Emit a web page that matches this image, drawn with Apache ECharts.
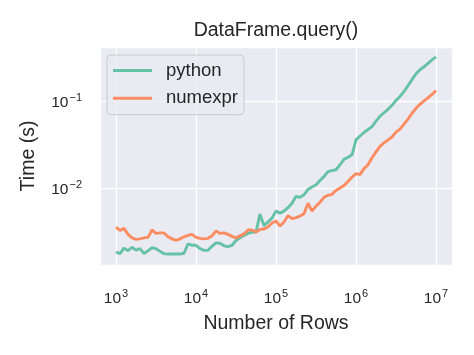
<!DOCTYPE html>
<html><head><meta charset="utf-8">
<script src="https://cdn.jsdelivr.net/npm/echarts@6/dist/echarts.min.js"></script>
<style>html,body{margin:0;padding:0;background:#fff}#c{width:474px;height:355px}</style>
</head><body><div id="c"></div>
<script>
// Number of rows (x)
const rows = [
  1000, 1122, 1259, 1413, 1585, 1778, 1995, 2239, 2512, 2818,
  3162, 3548, 3981, 4467, 5012, 5623, 6310, 7079, 7943, 8913,
  10000, 11220, 12589, 14125, 15849, 17783, 19953, 22387, 25119, 28184,
  31623, 35481, 39811, 44668, 50119, 56234, 63096, 70795, 79433, 89125,
  100000, 112202, 125893, 141254, 158489, 177828, 199526, 223872, 251189, 281838,
  316228, 354813, 398107, 446684, 501187, 562341, 630957, 707946, 794328, 891251,
  1000000, 1122018, 1258925, 1412538, 1584893, 1778279, 1995262, 2238721, 2511886, 2818383,
  3162278, 3548134, 3981072, 4466836, 5011872, 5623413, 6309573, 7079458, 7943282, 8912509,
  10000000
];
// Time (s) - python engine
const python = [
  1.86e-3, 1.78e-3, 2.06e-3, 1.92e-3, 2.11e-3, 1.95e-3, 2.03e-3, 1.78e-3, 1.92e-3, 2.08e-3,
  2.03e-3, 1.90e-3, 1.78e-3, 1.76e-3, 1.76e-3, 1.76e-3, 1.76e-3, 1.80e-3, 2.31e-3, 2.22e-3,
  2.22e-3, 2.03e-3, 1.94e-3, 1.95e-3, 2.16e-3, 2.37e-3, 2.34e-3, 2.19e-3, 2.14e-3, 2.22e-3,
  2.52e-3, 2.70e-3, 2.89e-3, 3.04e-3, 3.14e-3, 3.16e-3, 5.06e-3, 3.73e-3, 4.11e-3, 4.56e-3,
  5.48e-3, 5.20e-3, 5.48e-3, 6.00e-3, 6.75e-3, 8.11e-3, 7.90e-3, 8.44e-3, 9.74e-3, 1.04e-2,
  1.10e-2, 1.23e-2, 1.37e-2, 1.56e-2, 1.60e-2, 1.64e-2, 1.87e-2, 2.16e-2, 2.28e-2, 2.43e-2,
  3.61e-2, 4.00e-2, 4.39e-2, 4.75e-2, 5.13e-2, 5.93e-2, 6.75e-2, 7.40e-2, 8.11e-2, 9.01e-2,
  0.1027, 0.1140, 0.1299, 0.1520, 0.1778, 0.2080, 0.2310, 0.2498, 0.2738, 0.3001,
  0.3246
];
// Time (s) - numexpr engine
const numexpr = [
  3.58e-3, 3.29e-3, 3.47e-3, 2.96e-3, 2.70e-3, 2.60e-3, 2.63e-3, 2.70e-3, 2.74e-3, 3.33e-3,
  3.04e-3, 3.08e-3, 3.08e-3, 2.78e-3, 2.63e-3, 2.53e-3, 2.63e-3, 2.78e-3, 2.89e-3, 2.96e-3,
  2.74e-3, 2.67e-3, 2.63e-3, 2.67e-3, 2.85e-3, 3.25e-3, 3.04e-3, 3.08e-3, 2.96e-3, 2.81e-3,
  2.70e-3, 2.85e-3, 3.00e-3, 3.33e-3, 3.33e-3, 3.16e-3, 3.38e-3, 3.42e-3, 3.61e-3, 4.00e-3,
  4.22e-3, 3.70e-3, 4.11e-3, 4.87e-3, 4.50e-3, 4.62e-3, 4.81e-3, 5.13e-3, 6.75e-3, 5.48e-3,
  6.25e-3, 6.93e-3, 7.90e-3, 8.33e-3, 8.55e-3, 9.49e-3, 1.01e-2, 1.08e-2, 1.20e-2, 1.35e-2,
  1.48e-2, 1.44e-2, 1.69e-2, 1.87e-2, 2.25e-2, 2.63e-2, 3.04e-2, 3.33e-2, 3.61e-2, 3.90e-2,
  4.44e-2, 4.81e-2, 5.48e-2, 6.25e-2, 7.31e-2, 8.33e-2, 9.25e-2, 0.1013, 0.1096, 0.1201,
  0.1334
];
const seriesNames = ['python', 'numexpr'];
const colors = ['#66c2a5', '#fc8d62'];
const titleText = 'DataFrame.query()';
const xTitle = 'Number of Rows';
const yTitle = 'Time (s)';

const FONT = '"Liberation Sans", Arial, Helvetica, sans-serif';
const TXT = '#262626';

function supLabel(v) {
  const e = Math.log10(v);
  const r = Math.round(e);
  if (Math.abs(e - r) > 1e-6) return '';
  return '{b|10}{s|' + (r < 0 ? '\u2212' + (-r) : r) + '}';
}
const rich = {
  b: { fontSize: 15.5, fontFamily: FONT, color: TXT, lineHeight: 18, padding: [3, 0, 0, 0] },
  s: { fontSize: 11, fontFamily: FONT, color: TXT, verticalAlign: 'top', lineHeight: 11, padding: [0, 0, 0, 1] }
};

const chart = echarts.init(document.getElementById('c'), null, { renderer: 'canvas' });
chart.setOption({
  animation: false,
  backgroundColor: '#ffffff',
  color: colors,
  title: {
    text: titleText,
    left: 276,
    top: 21,
    textAlign: 'center',
    padding: 0,
    textStyle: { fontFamily: FONT, fontSize: 19.5, fontWeight: 'normal', color: TXT }
  },
  legend: {
    data: seriesNames,
    orient: 'vertical',
    left: 107,
    top: 55,
    padding: [6, 6, 7, 6],
    itemGap: 8.7,
    itemWidth: 39,
    itemHeight: 3,
    icon: 'rect',
    backgroundColor: 'rgba(234,234,242,0.8)',
    borderColor: '#cccccc',
    borderWidth: 1,
    borderRadius: 4,
    textStyle: { fontFamily: FONT, fontSize: 18.5, color: TXT, lineHeight: 18, padding: [0, 0, 0, 9] }
  },
  grid: {
    left: 100, right: 22, top: 47, bottom: 90,
    show: true, backgroundColor: '#eaeaf2', borderWidth: 0
  },
  xAxis: {
    type: 'log', logBase: 10,
    min: 630.957, max: 15848932,
    name: xTitle, nameLocation: 'middle', nameGap: 49,
    nameTextStyle: { fontFamily: FONT, fontSize: 19.5, color: TXT },
    axisLine: { show: false }, axisTick: { show: false },
    splitLine: { show: true, lineStyle: { color: '#ffffff', width: 1.3 } },
    minorTick: { show: false }, minorSplitLine: { show: false },
    axisLabel: { formatter: supLabel, rich: rich, margin: 23, showMinLabel: false, showMaxLabel: false }
  },
  yAxis: {
    type: 'log', logBase: 10,
    min: 1.318e-3, max: 0.4217,
    name: yTitle, nameLocation: 'middle', nameGap: 61,
    nameTextStyle: { fontFamily: FONT, fontSize: 19.5, color: TXT },
    axisLine: { show: false }, axisTick: { show: false },
    splitLine: { show: true, lineStyle: { color: '#ffffff', width: 1.3 } },
    axisLabel: { formatter: supLabel, rich: rich, margin: 18, showMinLabel: false, showMaxLabel: false }
  },
  series: [
    {
      name: seriesNames[0], type: 'line', showSymbol: false, symbol: 'none',
      lineStyle: { width: 2.9, color: colors[0] }, itemStyle: { color: colors[0] },
      data: rows.map((x, i) => [x, python[i]])
    },
    {
      name: seriesNames[1], type: 'line', showSymbol: false, symbol: 'none',
      lineStyle: { width: 2.9, color: colors[1] }, itemStyle: { color: colors[1] },
      data: rows.map((x, i) => [x, numexpr[i]])
    }
  ]
});
</script>
</body></html>
